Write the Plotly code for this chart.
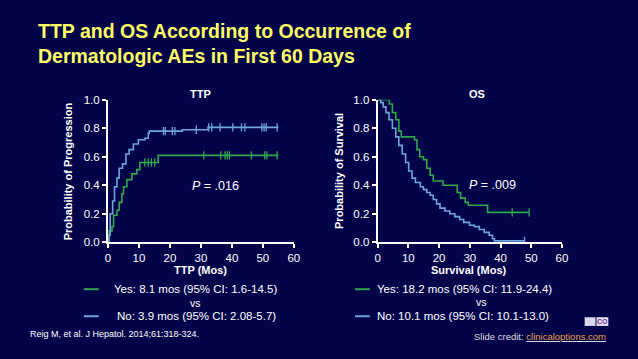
import numpy as np
import plotly.graph_objects as go

W, H = 638, 359
BG = "#03034A"
GREEN = "#2FA84A"
BLUE = "#6EA6DA"
YELLOW = "#FFFF66"
FONT = "Liberation Sans, Arial, sans-serif"

# ---------------- data ----------------
ttp_yes_t = [0, 0.4, 1.3, 1.8, 2.9, 3.6, 4.5, 5.0, 6.1, 7.7, 9.3, 10.3, 16.2, 55]
ttp_yes_p = [0, 0.08, 0.11, 0.19, 0.225, 0.28, 0.34, 0.39, 0.44, 0.48, 0.51, 0.56, 0.61, 0.61]
ttp_yes_cens = [11.9, 13.0, 14.0, 15.1, 30.9, 36.4, 37.8, 38.5, 39.2, 46.3, 50.6, 51.3, 54.6]

ttp_no_t = [0, 0.3, 0.7, 1.5, 2.1, 2.9, 3.6, 4.7, 5.8, 6.8, 8.2, 9.8, 11.9, 13.0, 13.3, 24.0, 32.3, 55]
ttp_no_p = [0, 0.05, 0.20, 0.29, 0.39, 0.45, 0.52, 0.55, 0.62, 0.65, 0.69, 0.72, 0.73, 0.765, 0.78, 0.79, 0.806, 0.806]
ttp_no_cens = [17.9, 18.5, 20.8, 21.6, 28.5, 32.5, 33.5, 36.2, 40.3, 43.1, 44.2, 49.7, 50.4, 51.1, 54.6]

os_yes_t = [0, 3.8, 4.8, 5.9, 6.9, 7.7, 12.0, 12.8, 13.7, 14.9, 16.0, 17.1, 18.1, 21.3, 25.9, 27.0, 28.5, 29.5, 35.8, 49.3]
os_yes_p = [1.0, 0.97, 0.91, 0.86, 0.78, 0.74, 0.72, 0.65, 0.60, 0.58, 0.52, 0.47, 0.43, 0.40, 0.35, 0.31, 0.28, 0.26, 0.21, 0.21]
os_yes_cens = [43.8, 49.3]

os_no_t = [0, 1.0, 1.8, 2.7, 3.7, 4.8, 5.9, 6.9, 8.0, 9.1, 10.1, 11.2, 12.3, 13.9, 14.9, 16.0, 17.1, 18.1,
           19.2, 20.3, 21.9, 23.5, 25.1, 26.7, 28.0, 29.9, 31.5, 33.1, 34.7, 36.3, 37.4, 38.0, 47.8]
os_no_p = [1.0, 0.98, 0.95, 0.91, 0.86, 0.80, 0.74, 0.68, 0.62, 0.56, 0.50, 0.45, 0.42, 0.39, 0.37, 0.35, 0.33, 0.30,
           0.27, 0.24, 0.22, 0.20, 0.18, 0.16, 0.14, 0.12, 0.11, 0.09, 0.07, 0.05, 0.025, 0.01, 0.01]
os_no_cens = [47.8]

x_ticks = [0, 10, 20, 30, 40, 50, 60]
y_ticks = [0.0, 0.2, 0.4, 0.6, 0.8, 1.0]

legend_ttp = ["Yes: 8.1 mos (95% CI: 1.6-14.5)", "No: 3.9 mos (95% CI: 2.08-5.7)"]
legend_os = ["Yes: 18.2 mos (95% CI: 11.9-24.4)", "No: 10.1 mos (95% CI: 10.1-13.0)"]
p_ttp = ".016"
p_os = ".009"


def step_at(ts, ps, t):
    i = np.searchsorted(np.array(ts), t, side="right") - 1
    return float(np.array(ps)[max(i, 0)])


def px(x):
    return x / W


def py(y):
    return 1 - y / H


fig = go.Figure()


def add_curve(ts, ps, cens, color, xa, ya):
    fig.add_trace(go.Scatter(x=ts, y=ps, mode="lines", line=dict(color=color, width=1.6, shape="hv"),
                             xaxis=xa, yaxis=ya, showlegend=False, hoverinfo="skip"))
    fig.add_trace(go.Scatter(x=cens, y=[step_at(ts, ps, c) for c in cens], mode="markers",
                             marker=dict(symbol="line-ns", size=6, line=dict(color=color, width=1.3)),
                             xaxis=xa, yaxis=ya, showlegend=False, hoverinfo="skip"))


add_curve(ttp_yes_t, ttp_yes_p, ttp_yes_cens, GREEN, "x", "y")
add_curve(ttp_no_t, ttp_no_p, ttp_no_cens, BLUE, "x", "y")
add_curve(os_yes_t, os_yes_p, os_yes_cens, GREEN, "x2", "y2")
add_curve(os_no_t, os_no_p, os_no_cens, BLUE, "x2", "y2")

ax_common = dict(showline=True, linecolor="white", linewidth=2, ticks="outside", tickcolor="white",
                 ticklen=4, tickwidth=2, showgrid=False, zeroline=False,
                 tickfont=dict(color="white", size=11.5, family=FONT))
ydom = [py(244.5), py(97)]
fig.update_layout(
    xaxis=dict(domain=[px(106.5), px(295)], range=[0, 60], tickvals=x_ticks, anchor="y", **ax_common),
    yaxis=dict(domain=ydom, range=[0, 1.0], tickvals=y_ticks, tickformat=".1f", anchor="x", **ax_common),
    xaxis2=dict(domain=[px(380), px(567)], range=[0, 60], tickvals=x_ticks, anchor="y2", **ax_common),
    yaxis2=dict(domain=ydom, range=[0, 1.0], tickvals=y_ticks, tickformat=".1f", anchor="x2", **ax_common),
)

ann = []


def text(x, y, s, size=12, color="white", xanchor="center", yanchor="middle", angle=0, bold=False, align="center"):
    if bold:
        s = "<b>" + s + "</b>"
    ann.append(dict(x=px(x), y=py(y), xref="paper", yref="paper", text=s, showarrow=False,
                    xanchor=xanchor, yanchor=yanchor, textangle=angle, align=align,
                    font=dict(size=size, color=color, family=FONT)))


text(33, 39, "TTP and OS According to Occurrence of<br>Dermatologic AEs in First 60 Days", size=19.5,
     color=YELLOW, xanchor="left", bold=True, align="left")
text(200, 91, "TTP", size=11, bold=True)
text(481, 91, "OS", size=11, bold=True)
text(66, 171, "Probability of Progression", size=11, angle=-90, bold=True)
text(341, 170.5, "Probability of Survival", size=11, angle=-90, bold=True)
text(200, 273.5, "TTP (Mos)", size=11, bold=True)
text(473, 273.5, "Survival (Mos)", size=11, bold=True)
text(216, 186, "<i>P</i> = " + p_ttp, size=12.5)
text(497, 185, "<i>P</i> = " + p_os, size=12.5)

text(195, 293, legend_ttp[0], size=11.5)
text(195, 307, "vs", size=10.5)
text(196, 321, legend_ttp[1], size=11.5)
text(377, 293, legend_os[0], size=11.5, xanchor="left")
text(485, 306, "vs", size=10.5)
text(377, 321, legend_os[1], size=11.5, xanchor="left")

text(25, 339, "Reig M, et al. J Hepatol. 2014;61:318-324.", size=9, xanchor="left")
text(614, 342, "Slide credit: <u><span style='color:#E8A040'>clinicaloptions.com</span></u>", size=9.5,
     color="#DDDDDD", xanchor="right")
text(608, 326.5, "<b>CO</b>", size=7, color="#7030A0")

shapes = []
for (x0, x1, yy, c) in [(82, 97, 293, GREEN), (82, 97, 321, BLUE), (357, 372, 293, GREEN), (357, 372, 321, BLUE)]:
    shapes.append(dict(type="line", xref="paper", yref="paper", x0=px(x0), x1=px(x1), y0=py(yy), y1=py(yy),
                       line=dict(color=c, width=2)))
shapes.append(dict(type="rect", xref="paper", yref="paper", x0=px(590), x1=px(601), y0=py(331), y1=py(322),
                   fillcolor="#D8D8E8", line=dict(width=0)))
shapes.append(dict(type="rect", xref="paper", yref="paper", x0=px(602), x1=px(614), y0=py(331), y1=py(322),
                   fillcolor="#E6E0F0", line=dict(width=0), layer="below"))

fig.update_layout(width=W, height=H, margin=dict(l=0, r=0, t=0, b=0), paper_bgcolor=BG, plot_bgcolor=BG,
                  annotations=ann, shapes=shapes, font=dict(family=FONT, color="white"))
fig.write_html("out.html", config={"displayModeBar": False, "staticPlot": True},
               post_script="document.body.style.margin='0px';document.body.style.overflow='hidden';"
                           "document.body.style.background='" + BG + "';")
